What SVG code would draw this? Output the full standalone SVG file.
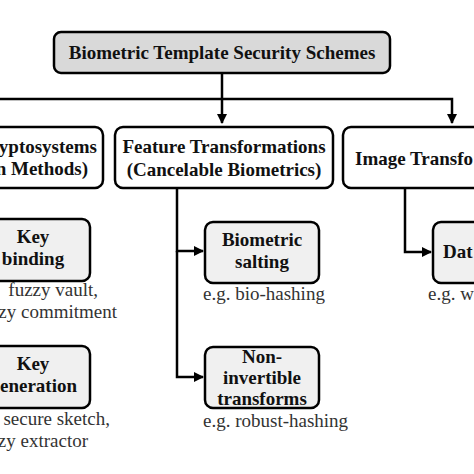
<svg xmlns="http://www.w3.org/2000/svg" width="474" height="474" viewBox="0 0 474 474">
<defs>
<marker id="ah" viewBox="0 0 10 10" refX="9" refY="5" markerWidth="4" markerHeight="4" orient="auto" markerUnits="strokeWidth">
<path d="M0,0 L10,5 L0,10 z" fill="#000"/>
</marker>
<style>
.box{stroke:#000;stroke-width:2.5}
.top{fill:#d9d9d9}
.mid{fill:#fff}
.sub{fill:#f0f0f0}
.b{font-family:"Liberation Serif","Times New Roman",serif;font-weight:bold;font-size:19px;fill:#111}
.c{font-family:"Liberation Serif","Times New Roman",serif;font-size:19px;fill:#333}
.ln{fill:none;stroke:#000;stroke-width:2.5}
</style>
</defs>
<rect width="474" height="474" fill="#fff"/>
<g id="connectors">
<path class="ln" d="M222,73 V123" marker-end="url(#ah)"/>
<path class="ln" d="M-10,99 H452 V123" marker-end="url(#ah)"/>
<path class="ln" d="M-10,99 V123"/>
<path class="ln" d="M177,188 V251 H203" marker-end="url(#ah)"/>
<path class="ln" d="M177,251 V377 H203" marker-end="url(#ah)"/>
<path class="ln" d="M405,188 V252 H431" marker-end="url(#ah)"/>
</g>
<g id="root">
<rect class="box top" x="54" y="32" width="336" height="41" rx="7"/>
<text class="b" x="222" y="59" text-anchor="middle">Biometric Template Security Schemes</text>
</g>
<g id="cryptosystems">
<rect class="box mid" x="-120" y="127" width="223" height="61" rx="8"/>
<text class="b" x="97" y="153" text-anchor="end">yptosystems</text>
<text class="b" x="88" y="175" text-anchor="end">n Methods)</text>
</g>
<g id="feature">
<rect class="box mid" x="115" y="127" width="218" height="61" rx="8"/>
<text class="b" x="224" y="153" text-anchor="middle">Feature Transformations</text>
<text class="b" x="224" y="176" text-anchor="middle">(Cancelable Biometrics)</text>
</g>
<g id="image">
<rect class="box mid" x="343" y="127" width="200" height="61" rx="8"/>
<text class="b" x="355" y="165">Image Transfo</text>
</g>
<g id="keybinding">
<rect class="box sub" x="-24" y="219" width="114" height="62" rx="8"/>
<text class="b" x="33" y="243" text-anchor="middle">Key</text>
<text class="b" x="33" y="265" text-anchor="middle">binding</text>
<text class="c" x="98" y="296" text-anchor="end">fuzzy vault,</text>
<text class="c" x="117" y="318" text-anchor="end">zy commitment</text>
</g>
<g id="keygeneration">
<rect class="box sub" x="-24" y="346" width="114" height="62" rx="8"/>
<text class="b" x="33" y="370" text-anchor="middle">Key</text>
<text class="b" x="77" y="392" text-anchor="end">eneration</text>
<text class="c" x="110" y="425" text-anchor="end">secure sketch,</text>
<text class="c" x="88" y="447" text-anchor="end">zy extractor</text>
</g>
<g id="salting">
<rect class="box sub" x="205" y="222" width="114" height="61" rx="8"/>
<text class="b" x="262" y="246" text-anchor="middle">Biometric</text>
<text class="b" x="262" y="268" text-anchor="middle">salting</text>
<text class="c" x="203" y="300">e.g. bio-hashing</text>
</g>
<g id="noninvertible">
<rect class="box sub" x="205" y="347" width="114" height="61" rx="8"/>
<text class="b" x="262" y="363" text-anchor="middle">Non-</text>
<text class="b" x="262" y="384" text-anchor="middle">invertible</text>
<text class="b" x="262" y="405" text-anchor="middle">transforms</text>
<text class="c" x="203" y="427">e.g. robust-hashing</text>
</g>
<g id="data">
<rect class="box sub" x="433" y="222" width="114" height="61" rx="8"/>
<text class="b" x="443" y="258">Dat</text>
<text class="c" x="428" y="300">e.g. w</text>
</g>
</svg>
